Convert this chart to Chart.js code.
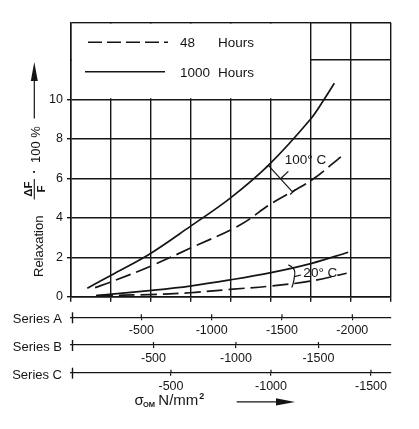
<!DOCTYPE html>
<html><head><meta charset="utf-8">
<script src="https://cdn.jsdelivr.net/npm/chart.js@4/dist/chart.umd.min.js"></script>
<style>html,body{margin:0;padding:0;background:#fff;overflow:hidden}</style>
</head><body>
<canvas id="c" width="419" height="429"></canvas>
<script>
// ---- data (x values in Series A stress, N/mm²) ----
const seriesNames = ['Series A', 'Series B', 'Series C'];
const seriesAMin = -2275, seriesBMin = -1940, seriesCMin = -1600;
const seriesATicks = [-500, -1000, -1500, -2000];
const seriesBTicks = [-500, -1000, -1500];
const seriesCTicks = [-500, -1000, -1500];
const yTickLabels = [0, 2, 4, 6, 8, 10];
const yExtraGrid = [12];
const yMax = 13.88;
const legendHours = ['48', '1000'];
const legendUnit = 'Hours';
const tempLabels = ['100° C', '20° C'];

const x100_48   = [-171, -289, -557, -846, -1201, -1427, -1711, -1919];
const y100_48   = [0.46, 0.76, 1.52, 2.45, 3.63, 4.73, 5.91, 7.09];
const x100_1000 = [-116, -289, -557, -846, -1130, -1403, -1704, -1800, -1872];
const y100_1000 = [0.43, 1.10, 2.15, 3.55, 4.98, 6.65, 9.0, 10.0, 10.81];
const x20_48    = [-183, -557, -846, -1130, -1422, -1711, -1960];
const y20_48    = [0.05, 0.11, 0.20, 0.37, 0.54, 0.80, 1.19];
const x20_1000  = [-178, -557, -846, -1130, -1422, -1711, -1971];
const y20_1000  = [0.05, 0.31, 0.54, 0.85, 1.22, 1.69, 2.25];

const INK = '#151515';
const FONT = '"Liberation Sans", Arial, sans-serif';
Chart.defaults.font.family = FONT;
Chart.defaults.color = INK;

function pts(xs, ys) { return xs.map((x, i) => ({ x: x, y: ys[i] })); }
const dash = [16, 6];

function line(xs, ys, dashed) {
  return {
    data: pts(xs, ys), borderColor: INK, borderWidth: 1.7,
    borderDash: dashed ? dash : [], pointRadius: 0, fill: false,
    tension: 0.35
  };
}

function seriesScale(min, ticks, weight, h) {
  return {
    type: 'linear', position: 'bottom', reverse: true, min: min, max: 0, weight: weight,
    afterBuildTicks: s => { s.ticks = ticks.map(v => ({ value: v })); },
    afterFit: s => { s.height = h; },
    grid: { display: true, drawOnChartArea: false, drawTicks: true, tickLength: 3, color: INK, lineWidth: 1.2 },
    border: { display: true, color: INK, width: 1.2 },
    ticks: { autoSkip: false, maxRotation: 0, padding: 3, font: { size: 12.5 }, color: INK,
      callback: v => String(v) }
  };
}

const plugin = {
  id: 'decor',
  beforeDatasetsDraw(chart) {
    const ctx = chart.ctx, a = chart.chartArea, sx = chart.scales.x, sy = chart.scales.y;
    const boxR = sx.getPixelForValue(seriesAMin * 6 / 8);
    const boxB = sy.getPixelForValue(10);
    ctx.save();
    ctx.fillStyle = '#fff';
    ctx.fillRect(a.left + 1, a.top + 1, boxR - a.left - 2, boxB - a.top - 2);
    // legend
    ctx.strokeStyle = INK; ctx.lineWidth = 1.6;
    const ly1 = a.top + 19.6, ly2 = a.top + 49;
    ctx.setLineDash([14, 5]);
    ctx.beginPath(); ctx.moveTo(a.left + 17, ly1); ctx.lineTo(a.left + 97, ly1); ctx.stroke();
    ctx.setLineDash([]);
    ctx.beginPath(); ctx.moveTo(a.left + 14, ly2); ctx.lineTo(a.left + 94, ly2); ctx.stroke();
    ctx.fillStyle = INK; ctx.font = '13.5px ' + FONT; ctx.textBaseline = 'alphabetic'; ctx.textAlign = 'left';
    ctx.fillText(legendHours[0], a.left + 109, ly1 + 5);
    ctx.fillText(legendUnit, a.left + 147, ly1 + 5);
    ctx.fillText(legendHours[1], a.left + 109, ly2 + 5);
    ctx.fillText(legendUnit, a.left + 147, ly2 + 5);
    ctx.restore();
  },
  afterDraw(chart) {
    const ctx = chart.ctx, sx = chart.scales.x, sy = chart.scales.y;
    const X = v => sx.getPixelForValue(v), Y = v => sy.getPixelForValue(v);
    ctx.save();
    ctx.strokeStyle = INK; ctx.fillStyle = INK;
    // series axes: upper tick parts, left bars, names
    [['sA', seriesATicks], ['sB', seriesBTicks], ['sC', seriesCTicks]].forEach((e, i) => {
      const s = chart.scales[e[0]];
      ctx.lineWidth = 1.2;
      e[1].forEach(v => {
        const px = s.getPixelForValue(v);
        ctx.beginPath(); ctx.moveTo(px, s.top - 3); ctx.lineTo(px, s.top); ctx.stroke();
      });
      ctx.lineWidth = 1.4;
      ctx.beginPath(); ctx.moveTo(s.left + 1.5, s.top - 5); ctx.lineTo(s.left + 1.5, s.top + 6); ctx.stroke();
      ctx.font = '13px ' + FONT; ctx.textAlign = 'right'; ctx.textBaseline = 'alphabetic';
      ctx.fillText(seriesNames[i], 62, s.top + 6);
    });
    // x title
    const sC = chart.scales.sC;
    const tb = sC.top + 32.5;
    ctx.textAlign = 'left';
    ctx.font = '15px ' + FONT; ctx.fillText('σ', 134.5, tb);
    ctx.font = 'bold 7.5px ' + FONT; ctx.fillText('OM', 143, tb + 1.5);
    ctx.font = '15px ' + FONT;
    const unit = 'N/mm';
    ctx.fillText(unit, 158.3, tb);
    const uEnd = 158.3 + ctx.measureText(unit).width;
    ctx.font = 'bold 9px ' + FONT; ctx.fillText('2', uEnd + 1, tb - 6.5);
    ctx.lineWidth = 1.2;
    ctx.beginPath(); ctx.moveTo(236.7, tb - 3.3); ctx.lineTo(278, tb - 3.3); ctx.stroke();
    ctx.beginPath(); ctx.moveTo(295, tb - 3.3); ctx.lineTo(276, tb - 7); ctx.lineTo(276, tb + 0.4); ctx.closePath(); ctx.fill();
    // y title (rotated)
    ctx.save();
    ctx.rotate(-Math.PI / 2);
    ctx.textBaseline = 'alphabetic';
    ctx.font = '13px ' + FONT; ctx.textAlign = 'left';
    ctx.fillText('Relaxation', -277, 42.5);
    ctx.textAlign = 'center';
    ctx.font = 'bold 11.5px ' + FONT;
    ctx.fillText('ΔF', -189, 32);
    ctx.fillText('F', -189, 44.5);
    ctx.lineWidth = 1.1;
    ctx.beginPath(); ctx.moveTo(-199.5, 34.3); ctx.lineTo(-179, 34.3); ctx.stroke();
    ctx.font = 'bold 13px ' + FONT;
    ctx.fillText('·', -171.5, 38);
    ctx.textAlign = 'left';
    ctx.font = '13px ' + FONT;
    ctx.fillText('100 %', -163, 40);
    ctx.restore();
    ctx.lineWidth = 1.2;
    ctx.beginPath(); ctx.moveTo(34.3, 118.5); ctx.lineTo(34.3, 78); ctx.stroke();
    ctx.beginPath(); ctx.moveTo(34.3, 62); ctx.lineTo(30.8, 81); ctx.lineTo(37.8, 81); ctx.closePath(); ctx.fill();

    // 100 °C bracket
    const p1 = [X(-1403), Y(6.65)], p2 = [X(-1576), Y(5.3)];
    let dx = p2[0] - p1[0], dy = p2[1] - p1[1], L = Math.hypot(dx, dy);
    const nx = -dy / L * 3.5, ny = dx / L * 3.5;
    ctx.lineWidth = 1.2;
    ctx.beginPath(); ctx.moveTo(p1[0], p1[1]); ctx.lineTo(p2[0], p2[1]); ctx.stroke();
    [p1, p2].forEach(p => { ctx.beginPath(); ctx.moveTo(p[0] - nx, p[1] - ny); ctx.lineTo(p[0] + nx, p[1] + ny); ctx.stroke(); });
    const m = [(p1[0] + p2[0]) / 2, (p1[1] + p2[1]) / 2];
    ctx.beginPath(); ctx.moveTo(m[0], m[1]); ctx.lineTo(X(-1545), Y(6.35)); ctx.stroke();
    ctx.font = '13.5px ' + FONT; ctx.textAlign = 'left'; ctx.textBaseline = 'alphabetic';
    ctx.fillText(tempLabels[0], X(-1520), Y(6.70));
    // 20 °C bracket
    const q1 = [X(-1545), Y(1.61)], q2 = [X(-1569), Y(0.47)];
    const qm = [(q1[0] + q2[0]) / 2 + 4.5, (q1[1] + q2[1]) / 2];
    ctx.beginPath(); ctx.moveTo(q1[0], q1[1]);
    ctx.quadraticCurveTo(qm[0] + 2, qm[1] - 8, qm[0], qm[1]);
    ctx.quadraticCurveTo(qm[0] - 1, qm[1] + 8, q2[0], q2[1]);
    ctx.stroke();
    ctx.beginPath(); ctx.moveTo(qm[0], qm[1] + 0.5); ctx.lineTo(X(-1635), Y(1.1)); ctx.stroke();
    ctx.fillText(tempLabels[1], X(-1652), Y(0.98));
    ctx.restore();
  }
};

new Chart(document.getElementById('c'), {
  type: 'line',
  data: {
    datasets: [
      line(x100_48, y100_48, true),
      line(x100_1000, y100_1000, false),
      line(x20_48, y20_48, true),
      line(x20_1000, y20_1000, false)
    ]
  },
  options: {
    responsive: false, animation: false,
    layout: { padding: { left: 0, right: 28, top: 22.7, bottom: 31.3 } },
    plugins: { legend: { display: false }, tooltip: { enabled: false } },
    scales: {
      x: {
        type: 'linear', position: 'bottom', reverse: true, min: seriesAMin, max: 0, weight: 0,
        afterBuildTicks: s => { const t = []; for (let i = 0; i <= 8; i++) t.push({ value: seriesAMin * i / 8 }); s.ticks = t; },
        afterFit: s => { s.height = 20.6; },
        grid: { color: INK, lineWidth: 1.4, tickLength: 5, drawTicks: true },
        border: { display: true, color: INK, width: 1.5 },
        ticks: { display: false }
      },
      sA: seriesScale(seriesAMin, seriesATicks, 1, 27.7),
      sB: seriesScale(seriesBMin, seriesBTicks, 2, 27.7),
      sC: seriesScale(seriesCMin, seriesCTicks, 3, 25),
      y: {
        type: 'linear', position: 'left', min: 0, max: yMax,
        afterBuildTicks: s => { s.ticks = yTickLabels.concat(yExtraGrid, [yMax]).map(v => ({ value: v })); },
        afterFit: s => { s.width = 71; },
        grid: {
          color: INK, lineWidth: 1.4, tickLength: 4,
          tickColor: c => (c.tick && c.tick.value > 10) ? 'rgba(0,0,0,0)' : INK
        },
        border: { display: true, color: INK, width: 1.5 },
        ticks: {
          padding: 4, font: { size: 12.5 }, color: INK,
          callback: v => yTickLabels.includes(v) ? String(v) : ''
        }
      }
    }
  },
  plugins: [plugin]
});
</script>
</body></html>
